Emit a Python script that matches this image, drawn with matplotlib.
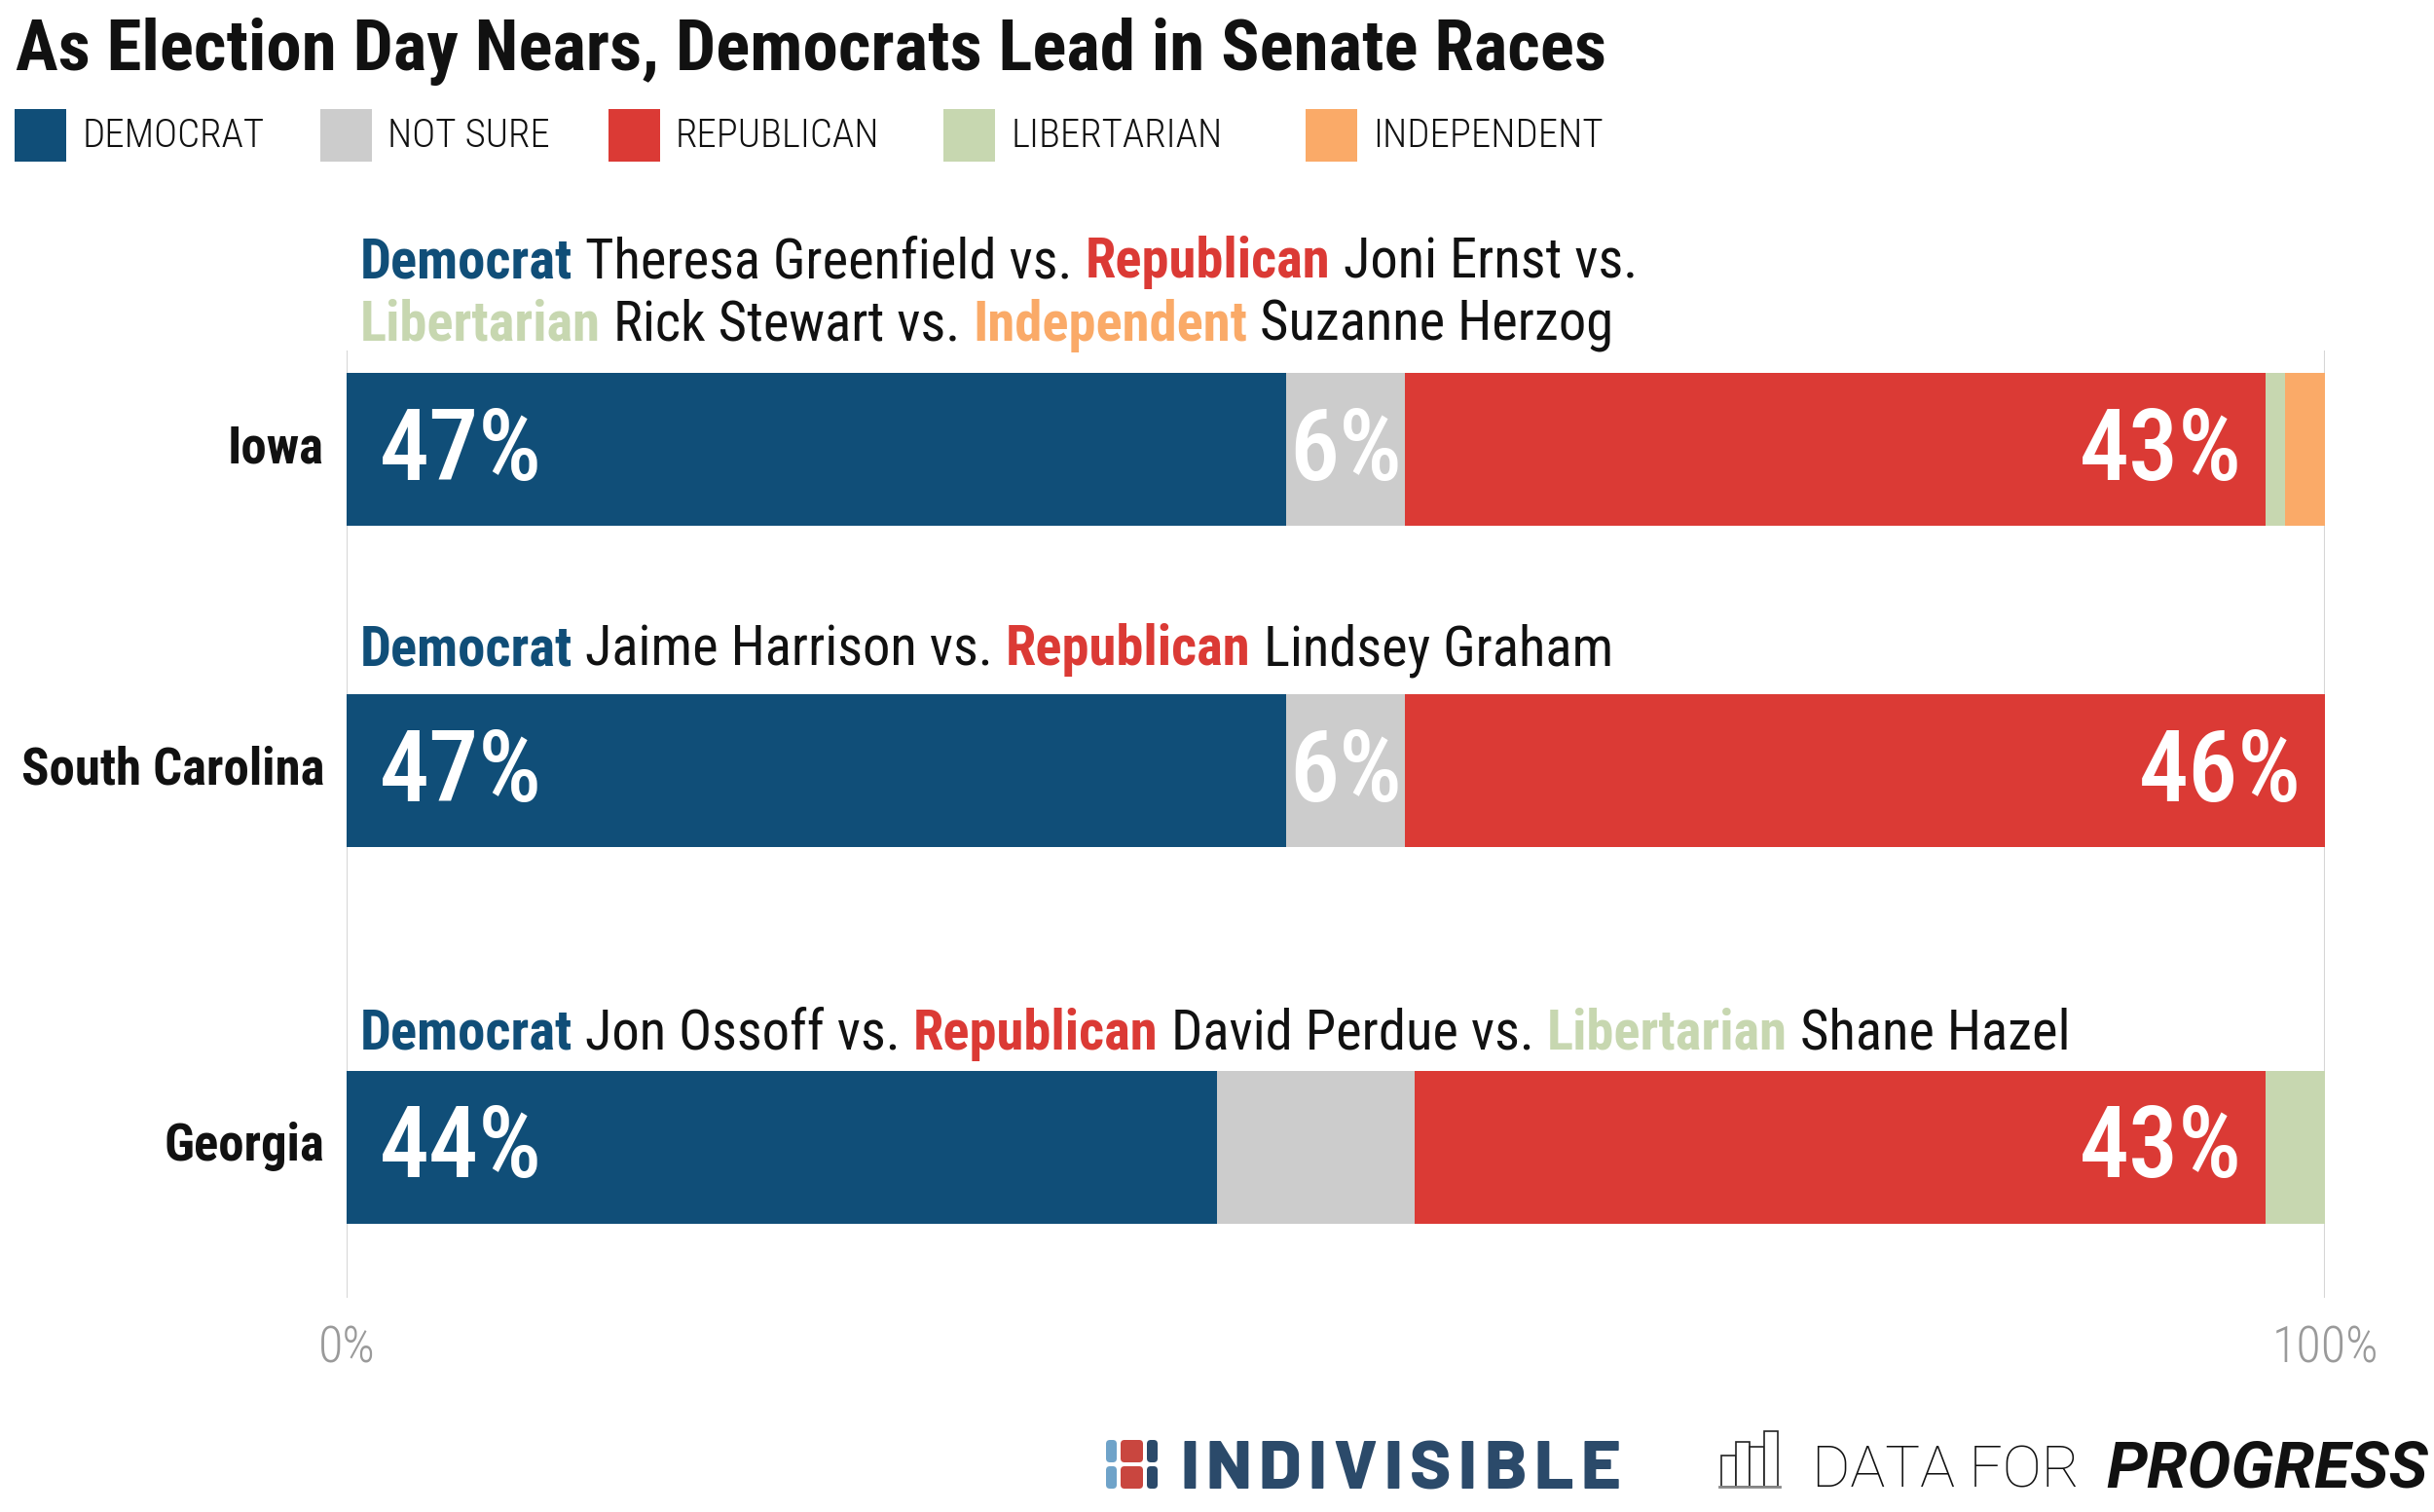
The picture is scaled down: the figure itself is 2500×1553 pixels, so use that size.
import matplotlib
matplotlib.use('Agg')
import matplotlib.pyplot as plt
from matplotlib import font_manager as fm
from matplotlib.patches import Rectangle, FancyBboxPatch

# --- data -------------------------------------------------------------
states = ['Iowa', 'South Carolina', 'Georgia']
dem = [47.5, 47.5, 44.0]
not_sure = [6.0, 6.0, 10.0]
rep = [43.5, 46.5, 43.0]
lib = [1.0, 0.0, 3.0]
ind = [2.0, 0.0, 0.0]

dem_lbl = ['47%', '47%', '44%']
ns_lbl = ['6%', '6%', '']
rep_lbl = ['43%', '46%', '43%']

legend_names = ['DEMOCRAT', 'NOT SURE', 'REPUBLICAN', 'LIBERTARIAN', 'INDEPENDENT']

DEM, NS, REP, LIB, IND = '#104e78', '#cccccc', '#db3a35', '#c7d7b0', '#faaa68'
BLK = '#111111'

# race subtitles: (text, colour, bold)
races = [
    [[('Democrat', DEM, True), ('Theresa Greenfield vs.', BLK, False),
      ('Republican', REP, True), ('Joni Ernst vs.', BLK, False)],
     [('Libertarian', LIB, True), ('Rick Stewart vs.', BLK, False),
      ('Independent', IND, True), ('Suzanne Herzog', BLK, False)]],
    [[('Democrat', DEM, True), ('Jaime Harrison vs.', BLK, False),
      ('Republican', REP, True), ('Lindsey Graham', BLK, False)]],
    [[('Democrat', DEM, True), ('Jon Ossoff vs.', BLK, False),
      ('Republican', REP, True), ('David Perdue vs.', BLK, False),
      ('Libertarian', LIB, True), ('Shane Hazel', BLK, False)]],
]

# --- fonts ------------------------------------------------------------
have = {f.name for f in fm.fontManager.ttflist}
def pick(*names):
    return [n for n in names if n in have] + ['DejaVu Sans']

BODY = pick('Roboto Condensed', 'Barlow Semi Condensed', 'Roboto')
LOGO = pick('Barlow', 'Roboto')
DFP = pick('Roboto', 'Lato')

# --- figure (overlay axes works in pixels, y down) ---------------------
W, H = 2500, 1553
fig = plt.figure(figsize=(W / 100, H / 100), dpi=100)
R = fig.canvas.get_renderer()

ov = fig.add_axes([0, 0, 1, 1])
ov.set_xlim(0, W)
ov.set_ylim(H, 0)
ov.axis('off')

X0, X1, Y0, Y1 = 356, 2388, 360, 1333
ax = fig.add_axes([X0 / W, 1 - Y1 / H, (X1 - X0) / W, (Y1 - Y0) / H])
ax.set_facecolor('none')
ax.set_xlim(0, 100)
ax.set_ylim(Y1, Y0)
row_y = [461.5, 791.5, 1178.5]
bar_h = 157


def text_w(s, size, family=BODY, **kw):
    t = fig.text(0, 0, s, fontsize=size, family=family, **kw)
    w = t.get_window_extent(renderer=R).width
    t.remove()
    return w


def fit(s, target, **kw):
    return 40 * target / text_w(s, 40, **kw)


# --- title & legend ---------------------------------------------------
title = 'As Election Day Nears, Democrats Lead in Senate Races'
ov.text(16, 72, title, fontsize=fit(title, 1632, fontweight='bold'),
        fontweight='bold', family=BODY, color=BLK, va='baseline')

leg_size = fit('DEMOCRAT', 187, fontweight='light')
sq_x = [15, 329, 625, 969, 1341]
for name, col, x in zip(legend_names, [DEM, NS, REP, LIB, IND], sq_x):
    ov.add_patch(Rectangle((x, 112), 53, 54, color=col, lw=0))
    ov.text(x + 69, 151, name, fontsize=leg_size, fontweight='light',
            family=BODY, color=BLK, va='baseline')

# --- bars ---------------------------------------------------------------
left = [0, 0, 0]
for vals, col in zip([dem, not_sure, rep, lib, ind], [DEM, NS, REP, LIB, IND]):
    ax.barh(row_y, vals, left=left, height=bar_h, color=col, lw=0, zorder=2)
    left = [a + b for a, b in zip(left, vals)]

ax.axvline(0, color='#d6d6d6', lw=1.5, zorder=1)
ax.axvline(100, color='#d6d6d6', lw=1.5, zorder=1)

pct_w = 'medium'
pct_size = fit('47%', 167, fontweight=pct_w)
px = 0.72  # points per pixel at dpi 100
for i, y in enumerate(row_y):
    yb = y + 31
    ax.annotate(dem_lbl[i], (0, yb), xytext=(34 * px, 0), textcoords='offset points',
                ha='left', va='baseline', color='white', fontsize=pct_size,
                fontweight=pct_w, family=BODY, zorder=3)
    if ns_lbl[i]:
        ax.text(dem[i] + not_sure[i] / 2, yb, ns_lbl[i], ha='center', va='baseline',
                color='white', fontsize=pct_size, fontweight=pct_w,
                family=BODY, zorder=3)
    rend = dem[i] + not_sure[i] + rep[i]
    ax.annotate(rep_lbl[i], (rend, yb), xytext=(-24 * px, 0), textcoords='offset points',
                ha='right', va='baseline', color='white', fontsize=pct_size,
                fontweight=pct_w, family=BODY, zorder=3)

ax.set_yticks([])
for s in ax.spines.values():
    s.set_visible(False)
ax.set_xticks([0, 100], ['0%', '100%'])
tick_size = fit('100%', 109, fontweight='light')
ax.tick_params(axis='x', length=0, pad=27 * px, labelsize=tick_size, labelcolor='#9a9a9a')
for lb in ax.get_xticklabels():
    lb.set_family(BODY)
    lb.set_fontweight('light')

# state names
st_size = fit('South Carolina', 311, fontweight='bold')
for name, y in zip(states, row_y):
    ov.text(333, y + 13.5, name, ha='right', va='baseline', fontsize=st_size,
            fontweight='bold', family=BODY, color=BLK)


# --- race subtitles -----------------------------------------------------
def line_width(tokens, size):
    gap = text_w('a a', size) - text_w('aa', size)
    tot = 0
    for txt, col, b in tokens:
        tot += text_w(txt, size, fontweight='bold' if b else 'normal') + gap
    return tot - gap


def rich_line(tokens, x, y, size):
    gap = text_w('a a', size) - text_w('aa', size)
    for txt, col, b in tokens:
        t = ov.text(x, y, txt, color=col, fontsize=size, family=BODY,
                    fontweight='bold' if b else 'normal', va='baseline', ha='left')
        x += t.get_window_extent(renderer=R).width + gap


sub_size = 40 * 1312 / line_width(races[0][0], 40)
sub_base = [[285, 350], [683], [1078]]
for lines, bases in zip(races, sub_base):
    for tokens, yb in zip(lines, bases):
        rich_line(tokens, 370, yb, sub_size)

# --- footer logos -------------------------------------------------------
ind_cols = [['#6fa3c9', '#c9463f', '#2b4a6a'], ['#6fa3c9', '#c9463f', '#2b4a6a']]
cx = [(1136, 11), (1151, 23), (1178, 11)]
for r, (ytop, hh) in enumerate([(1479, 23), (1506, 23)]):
    for c, (x, ww) in enumerate(cx):
        ov.add_patch(FancyBboxPatch((x, ytop), ww, hh, boxstyle='round,pad=0,rounding_size=4',
                                    color=ind_cols[r][c], lw=0))

# letter-spaced wordmark
word = 'INDIVISIBLE'
logo_size = 51
widths = [text_w(ch, logo_size, family=LOGO, fontweight='heavy') for ch in word]
gap = (452 - sum(widths)) / (len(word) - 1)
x = 1212
for ch, w in zip(word, widths):
    ov.text(x, 1529, ch, fontsize=logo_size, family=LOGO, fontweight='heavy',
            color='#2b4a6a', va='baseline')
    x += w + gap

for k, hgt in enumerate([32, 46, 41, 57]):
    ov.add_patch(Rectangle((1768 + k * 14.5, 1527 - hgt), 14.5, hgt, fc='white',
                           ec='#222222', lw=1.2))
ov.plot([1766, 1828], [1527, 1527], color='#888888', lw=2)
ov.text(1861, 1528, 'DATA FOR', fontsize=fit('DATA FOR', 275, family=DFP, fontweight='light'),
        family=DFP, fontweight='light', color=BLK, va='baseline')
ov.text(2163, 1528, 'PROGRESS',
        fontsize=fit('PROGRESS', 330, family=DFP, fontweight='bold', fontstyle='italic'),
        family=DFP, fontweight='bold', fontstyle='italic', color=BLK, va='baseline')

fig.savefig('out.png', dpi=100)
